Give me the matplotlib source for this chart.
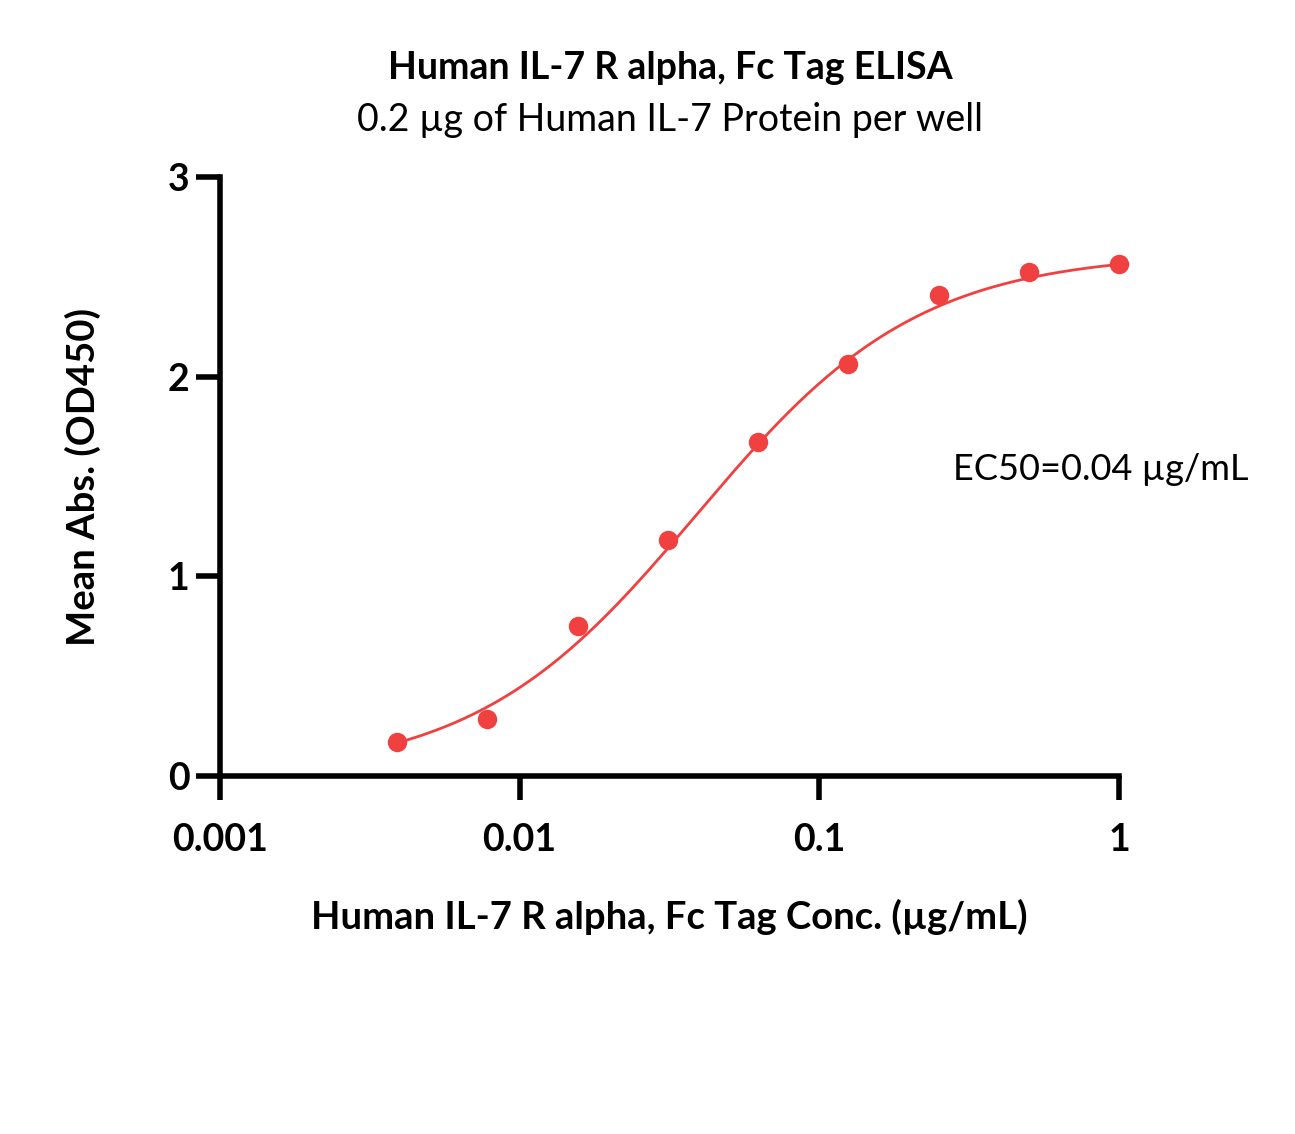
import numpy as np
import matplotlib
matplotlib.use("Agg")
import matplotlib.pyplot as plt
from matplotlib.ticker import FixedLocator, FixedFormatter, NullLocator

plt.rcParams['font.family'] = ['Lato', 'DejaVu Sans']

# Data
conc = [0.0039, 0.0078, 0.0156, 0.03125, 0.0625, 0.125, 0.25, 0.5, 1.0]
absorb = [0.170, 0.285, 0.751, 1.182, 1.672, 2.063, 2.409, 2.524, 2.564]
# 4PL fit parameters
fit_bottom = 0.0
fit_top = 2.62
fit_ec50 = 0.039
fit_hill = 1.17
x_ticks = [0.001, 0.01, 0.1, 1]
x_tick_labels = ["0.001", "0.01", "0.1", "1"]
y_ticks = [0, 1, 2, 3]
y_tick_labels = ["0", "1", "2", "3"]

red = "#F04040"

fig = plt.figure(figsize=(12.95, 11.34), dpi=100)
ax = fig.add_axes([220/1295, 1-776/1134, 899/1295, 599/1134])

xs = np.logspace(np.log10(conc[0]), np.log10(conc[-1]), 300)
ys = fit_bottom + (fit_top - fit_bottom) / (1 + (fit_ec50 / xs) ** fit_hill)
ax.plot(xs, ys, color=red, lw=2.0, zorder=2)
ax.plot(conc, absorb, 'o', color=red, ms=14, mec='none', zorder=3, clip_on=False)

ax.set_xscale('log')
ax.set_xlim(0.001, 1)
ax.set_ylim(0, 3)
ax.xaxis.set_major_locator(FixedLocator(x_ticks))
ax.xaxis.set_major_formatter(FixedFormatter(x_tick_labels))
ax.xaxis.set_minor_locator(NullLocator())
ax.yaxis.set_major_locator(FixedLocator(y_ticks))
ax.yaxis.set_major_formatter(FixedFormatter(y_tick_labels))

for s in ['top', 'right']:
    ax.spines[s].set_visible(False)
for s in ['left', 'bottom']:
    ax.spines[s].set_linewidth(4)
    ax.spines[s].set_capstyle('projecting')
ax.tick_params(axis='both', which='major', length=17, width=4, direction='out',
               labelsize=27)
ax.tick_params(axis='x', pad=17)
ax.tick_params(axis='y', pad=5)
for lab in ax.get_xticklabels() + ax.get_yticklabels():
    lab.set_fontweight('bold')

ax.set_xlabel("Human IL-7 R alpha, Fc Tag Conc. (µg/mL)", fontsize=27.5, fontweight='bold', labelpad=30)
ax.set_ylabel("Mean Abs. (OD450)", fontsize=27.5, fontweight='bold', labelpad=48)

fig.text(670/1295, 1-68/1134, "Human IL-7 R alpha, Fc Tag ELISA", ha='center', va='center',
         fontsize=27, fontweight='bold')
fig.text(670/1295, 1-120/1134, "0.2 µg of Human IL-7 Protein per well", ha='center', va='center',
         fontsize=27)
fig.text(953/1295, 1-470/1134, "EC50=0.04 µg/mL", ha='left', va='center', fontsize=26)

fig.savefig("out.png", dpi=100, facecolor='white')
